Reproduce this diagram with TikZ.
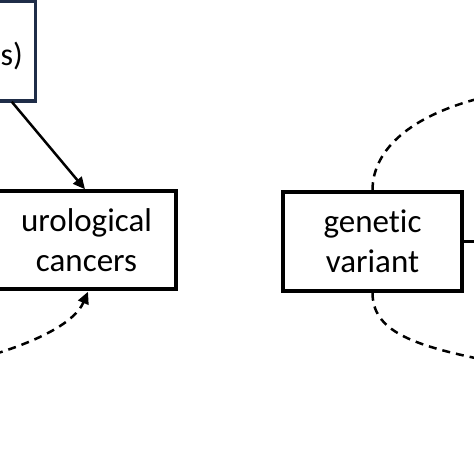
\documentclass[tikz,border=0pt]{standalone}
\usepackage{fontspec}
\setmainfont{Carlito}[Ligatures=NoCommon]
\usetikzlibrary{arrows.meta}
\definecolor{navy}{RGB}{31,45,72}
\tikzset{
  boxnode/.style={draw=black, line width=3.5pt, rectangle, inner sep=0pt, align=center,
    font=\fontsize{33}{40}\selectfont},
  topboxnode/.style={draw=navy, line width=3.5pt, rectangle, inner sep=0pt},
  arr/.style={line width=2.5pt, -{Triangle[length=12pt,width=11pt]}},
  dasharr/.style={line width=2.5pt, dash pattern=on 8pt off 6pt, -{Triangle[length=12pt,width=11pt]}},
  dashline/.style={line width=2.5pt, dash pattern=on 8pt off 6pt},
  plain/.style={line width=2.5pt}
}
\begin{document}
\begin{tikzpicture}[x=1pt,y=-1pt]
\useasboundingbox (0,0) rectangle (474,474);
\clip (0,0) rectangle (474,474);
\fill[white] (0,0) rectangle (474,474);
% top box (partially off canvas)
\node[topboxnode, minimum width=95.5pt, minimum height=99.5pt] (topbox) at (-12.25,51.25) {};
\node[anchor=base west, inner sep=0pt, font=\fontsize{32}{36}\selectfont] (toptext) at (0.5,65) {s)};
% urological cancers
\node[boxnode, minimum width=179pt, minimum height=98pt] (uro) at (86.5,240) {urological\\cancers};
% genetic variant
\node[boxnode, minimum width=179pt, minimum height=99pt] (gen) at (372.5,241.5) {genetic\\variant};
% connectors
\draw[arr] ([xshift=24pt,yshift=1pt]topbox.south) -- ([xshift=-1.5pt]uro.north);
\coordinate (leftend) at (-5,354);
\draw[dasharr] (leftend) .. controls (40,340) and (75,322) .. ([xshift=1.5pt,yshift=-1pt]uro.south);
\coordinate (rightline) at (480,241.5);
\draw[plain] (gen.east) -- (rightline);
\coordinate (topend) at (485,97);
\draw[dashline] (gen.north) .. controls (372.5,150) and (410,115) .. (topend);
\coordinate (botend) at (485,360);
\draw[dashline] (gen.south) .. controls (372.5,330) and (410,345) .. (botend);
\end{tikzpicture}
\end{document}
